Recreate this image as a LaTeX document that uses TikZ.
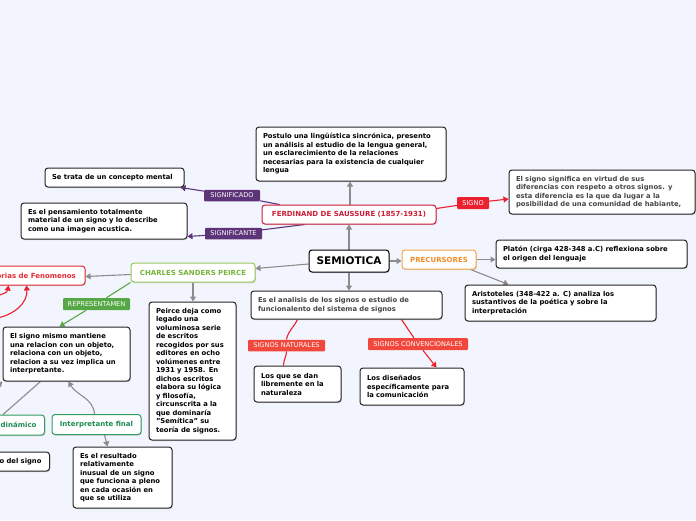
\documentclass[tikz,border=0pt]{standalone}
\usepackage{fontspec}
\setmainfont{DejaVu Sans}
\usetikzlibrary{shadows,arrows.meta,calc,backgrounds}
\definecolor{bg}{RGB}{243,245,254}
\definecolor{lgrey}{RGB}{140,140,140}
\definecolor{ferdred}{RGB}{204,28,56}
\definecolor{sred}{RGB}{236,32,46}
\definecolor{nred}{RGB}{240,72,60}
\definecolor{tred}{RGB}{226,44,52}
\definecolor{purp}{RGB}{94,52,120}
\definecolor{lgreenb}{RGB}{150,200,90}
\definecolor{lgreent}{RGB}{120,180,60}
\definecolor{repgreen}{RGB}{86,168,70}
\definecolor{dgreenb}{RGB}{50,155,95}
\definecolor{dgreent}{RGB}{30,140,80}
\definecolor{orngb}{RGB}{245,165,80}
\definecolor{orngt}{RGB}{242,140,40}
\definecolor{greytext}{RGB}{70,70,70}
\tikzset{
  base/.style={rounded corners=3pt, line width=1pt, fill=white,
    drop shadow={shadow xshift=0.8pt, shadow yshift=-1.2pt, opacity=0.3}},
  body/.style={base, draw=black!85, align=left,
    font=\fontsize{6.8}{8.5}\selectfont\bfseries, inner xsep=7pt, inner ysep=3pt},
  titlebox/.style={base, align=center, font=\fontsize{7}{8.5}\selectfont\bfseries, inner sep=0pt},
  lbl/.style={rounded corners=1pt, text=white, font=\fontsize{6.6}{8}\selectfont,
    inner xsep=3pt, inner ysep=0pt, minimum height=11.5pt},
  gconn/.style={draw=lgrey, line width=1.1pt, -{Triangle[width=6pt,length=5pt]}},
  gline/.style={draw=lgrey, line width=1.1pt},
  pconn/.style={draw=purp, line width=1.1pt, -{Triangle[width=6pt,length=5pt]}},
  rconn/.style={draw=sred, line width=1.1pt, -{Triangle[width=6pt,length=5pt]}},
  rline/.style={draw=sred, line width=1.1pt},
  gnconn/.style={draw=repgreen, line width=1.1pt, -{Triangle[width=6pt,length=5pt]}},
}
\begin{document}
\begin{tikzpicture}[x=1pt,y=-1pt]
\useasboundingbox (0,0) rectangle (696,520);

% main nodes
\node[titlebox, draw=black, font=\fontsize{10.5}{12}\selectfont\bfseries, minimum width=80pt, minimum height=22pt] (sem) at (349,261) {SEMIOTICA};
\node[titlebox, draw=ferdred, text=ferdred, minimum width=174pt, minimum height=19pt] (ferd) at (349,214.5) {FERDINAND DE SAUSSURE (1857-1931)};
\node[titlebox, draw=orngb, text=orngt, minimum width=74pt, minimum height=19pt] (prec) at (439,259.5) {PRECURSORES};
\node[titlebox, draw=lgreenb, text=lgreent, minimum width=124pt, minimum height=19pt] (peirce) at (193,272.5) {CHARLES SANDERS PEIRCE};
\node[titlebox, draw=tred, text=tred, minimum width=106pt, minimum height=19pt] (teor) at (32,275.5) {Teorias de Fenomenos};
\node[titlebox, draw=dgreenb, text=dgreent, inner xsep=8pt, minimum height=20pt, anchor=east] (idin) at (45,425) {Interpretante dinámico};
\node[titlebox, draw=dgreenb, text=dgreent, minimum width=89pt, minimum height=20pt] (ifin) at (96.5,424.5) {Interpretante final};

% body boxes
\node[body, text width=176pt, minimum height=54pt] (post) at (351,154) {Postulo una lingüística sincrónica, presento\\un análisis al estudio de la lengua general,\\un esclarecimiento de la relaciones\\necesarias para la existencia de cualquier\\lengua};
\node[body, text=greytext, text width=172pt, minimum height=44pt] (sesig) at (602,192) {El signo significa en virtud de sus\\diferencias con respeto a otros signos. y\\esta diferencia es la que da lugar a la\\posibilidad de una comunidad de habiante,};
\node[body, text width=125pt, minimum height=19pt] (setrata) at (114.5,177.5) {Se trata de un concepto mental};
\node[body, text width=152pt, minimum height=36pt] (espens) at (104,221) {Es el pensamiento totalmente\\material de un signo y lo describe\\como una imagen acustica.};
\node[body, text width=177pt, minimum height=28pt] (platon) at (591.5,254) {Platón (cirga 428-348 a.C) reflexiona sobre\\el origen del lenguaje};
\node[body, text width=177pt, minimum height=36pt] (arist) at (560.5,303) {Aristoteles (348-422 a. C) analiza los\\sustantivos de la poética y sobre la\\interpretación};
\node[body, text=greytext, text width=177pt, minimum height=28pt] (ana) at (346.5,305) {Es el analisis de los signos o estudio de\\funcionalento del sistema de signos};
\node[body, text width=73pt, minimum height=36pt] (losque) at (297.5,384) {Los que se dan\\libremente en la\\naturaleza};
\node[body, text width=90pt, minimum height=37pt] (disen) at (412,386.5) {Los diseñados\\específicamente para\\la comunicación};
\node[body, text width=113pt, minimum height=54pt] (smismo) at (66.5,354) {El signo mismo mantiene\\una relacion con un objeto,\\relaciona con un objeto,\\relacion a su vez implica un\\interpretante.};
\node[body, text width=73pt, minimum height=138pt] (pdeja) at (192.5,371) {Peirce deja como\\legado una\\voluminosa serie\\de escritos\\recogidos por sus\\editores en ocho\\volúmenes entre\\1931 y 1958. En\\dichos escritos\\elabora su lógica\\y filosofía,\\circunscrita a la\\que dominaría\\"Semítica" su\\teoría de signos.};
\node[body, text width=85pt, minimum height=61pt] (resul) at (122.5,477.5) {Es el resultado\\relativamente\\inusual de un signo\\que funciona a pleno\\en cada ocasión en\\que se utiliza};
\node[body, inner xsep=8pt, minimum height=19pt, anchor=east] (odel) at (50,461.5) {o del signo};

% labels
\node[lbl, fill=purp, minimum width=56pt] (lsdo) at (232,195.5) {SIGNIFICADO};
\node[lbl, fill=purp, minimum width=57pt] (lste) at (233.5,233.5) {SIGNIFICANTE};
\node[lbl, fill=sred, minimum width=32pt, minimum height=12pt] (lsig) at (473,203) {SIGNO};
\node[lbl, fill=repgreen, minimum width=67pt, minimum height=12pt] (lrep) at (96.5,304) {REPRESENTAMEN};
\node[lbl, fill=nred, minimum width=77pt] (lnat) at (286.5,345.5) {SIGNOS NATURALES};
\node[lbl, fill=nred, minimum width=100pt, minimum height=12pt] (lconv) at (418,344) {SIGNOS CONVENCIONALES};

\coordinate (offr1) at (-8,298);
\coordinate (offr2) at (-3,318);
\coordinate (offg) at (-12,394);

\begin{scope}[on background layer]
\fill[bg] (0,0) rectangle (696,520);
\draw[gconn] (sem.north) -- (ferd.south);
\draw[gconn] ([xshift=1pt]ferd.north) -- ([xshift=1pt]ferd.north |- post.south);
\draw[gconn] (sem.east) -- (sem.east -| prec.west);
\draw[gconn] (sem.south) -- (sem.south |- ana.north);
\draw[gconn] ([yshift=-3pt]sem.west) -- ([yshift=4pt]peirce.east);
\draw[gconn] ([yshift=-2pt]peirce.west) -- ([yshift=-1pt]teor.east);
\draw[gconn] (peirce.south) -- (peirce.south |- pdeja.north);
\draw[gconn] (prec.east) -- (prec.east -| platon.west);
\draw[gconn] ([xshift=-6pt]prec.south east) -- ($(arist.north west)+(44,0)$);
% Saussure branches
\draw[pconn] ([xshift=18pt]ferd.north west) -- (lsdo) -- ([xshift=-4pt]setrata.south east);
\draw[pconn] ([xshift=43pt]ferd.south west) -- (lste) -- ([yshift=3pt]espens.south east);
\draw[rconn] ([yshift=6pt]ferd.east) -- (lsig) -- ([yshift=-7pt]sesig.west);
% signos
\draw[rline] ([xshift=47pt]ana.south west) to[out=-115,in=80] (lnat.north);
\draw[rline] (lnat.south) to[out=-92,in=90] ([xshift=30pt]losque.north west);
\draw[rconn] ([xshift=151pt]ana.south west) -- (lconv) -- ([xshift=77pt]disen.north west);
% Peirce branches
\draw[gnconn] (peirce.south west) -- (lrep) -- ([xshift=57pt]smismo.north west);
\draw[gconn] ([xshift=-2pt]ifin.north) to[out=95,in=-60] ([xshift=2pt]smismo.south);
\draw[gline] ([xshift=-26pt]smismo.south) -- ([xshift=-42pt]idin.north east);
\draw[gconn] ([xshift=8pt]ifin.south) -- ($(resul.north west)+(35,0)$);
\draw[gconn] (offg) -- (smismo.south west);
\draw[rconn] (offr1) to[out=25,in=-100] ($(teor.south west)+(30,0)$);
\draw[rconn] (offr2) to[out=10,in=-85] ($(teor.south west)+(48,0)$);
\end{scope}
\end{tikzpicture}
\end{document}
